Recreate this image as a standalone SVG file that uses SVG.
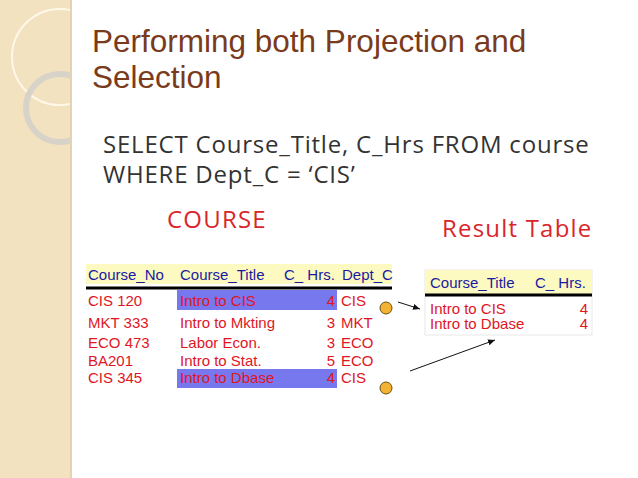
<svg xmlns="http://www.w3.org/2000/svg" width="638" height="478" viewBox="0 0 638 478">
<defs>
<marker id="ah" markerWidth="8" markerHeight="8" refX="7" refY="4" orient="auto" markerUnits="userSpaceOnUse"><path d="M0,1 L7,4 L0,7 z" fill="#111"/></marker>
<clipPath id="band"><rect x="0" y="0" width="70" height="478"/></clipPath>
</defs>
<style>
.h{font-family:"Liberation Sans",Arial,sans-serif;font-size:15px;fill:#1a1aa0}
.r{font-family:"Liberation Sans",Arial,sans-serif;font-size:15px;fill:#e0161e}
.t{font-family:"Open Sans","DejaVu Sans",sans-serif;font-size:24px;fill:#333;letter-spacing:0.8px}
.c{font-family:"Open Sans","DejaVu Sans",sans-serif;font-size:24px;fill:#d9262a;letter-spacing:1.2px}
.dot{fill:#f2b233;stroke:#6a5010;stroke-width:1}
</style>
<rect width="638" height="478" fill="#fff"/>
<g id="background">
<rect x="0" y="0" width="70" height="478" fill="#f2e2c0"/>
<rect x="70" y="0" width="2" height="478" fill="#e3d3b0"/>
<g clip-path="url(#band)">
<circle cx="60" cy="57" r="48" fill="none" stroke="#fff8e8" stroke-width="2"/>
<circle cx="60" cy="108" r="34" fill="none" stroke="#d8d3c8" stroke-width="6"/>
</g>
</g>
<g id="title">
<text x="92" y="52" font-family="'Liberation Sans',Arial,sans-serif" font-size="31.5" fill="#7a3a1c">Performing both Projection and</text>
<text x="92" y="88" font-family="'Liberation Sans',Arial,sans-serif" font-size="31.5" fill="#7a3a1c">Selection</text>
</g>
<g id="sql">
<text class="t" x="103" y="153">SELECT Course_Title, C_Hrs FROM course</text>
<text class="t" x="103" y="183">WHERE Dept_C = ‘CIS’</text>
</g>
<g id="course-table">
<text class="c" x="167" y="228">COURSE</text>
<rect x="86" y="264" width="306" height="20" fill="#fcfac0"/>
<rect x="177" y="290" width="160" height="20" fill="#7777ee"/>
<rect x="177" y="369" width="160" height="19" fill="#7777ee"/>
<line x1="86" y1="288" x2="392" y2="288" stroke="#000" stroke-width="3"/>
<text class="h" x="88" y="280">Course_No</text>
<text class="h" x="180" y="280">Course_Title</text>
<text class="h" x="284" y="280">C_ Hrs.</text>
<text class="h" x="342" y="280">Dept_C</text>
<text class="r" x="88" y="306">CIS 120</text><text class="r" x="335" y="306" text-anchor="end">4</text><text class="r" x="180" y="306">Intro to CIS</text><text class="r" x="341" y="306">CIS</text>
<text class="r" x="88" y="328">MKT 333</text><text class="r" x="180" y="328">Intro to Mkting</text><text class="r" x="335" y="328" text-anchor="end">3</text><text class="r" x="341" y="328">MKT</text>
<text class="r" x="88" y="348">ECO 473</text><text class="r" x="180" y="348">Labor Econ.</text><text class="r" x="335" y="348" text-anchor="end">3</text><text class="r" x="341" y="348">ECO</text>
<text class="r" x="88" y="366">BA201</text><text class="r" x="180" y="366">Intro to Stat.</text><text class="r" x="335" y="366" text-anchor="end">5</text><text class="r" x="341" y="366">ECO</text>
<text class="r" x="88" y="383">CIS 345</text><text class="r" x="180" y="383">Intro to Dbase</text><text class="r" x="335" y="383" text-anchor="end">4</text><text class="r" x="341" y="383">CIS</text>
</g>
<g id="result-table">
<text class="c" x="442" y="237">Result Table</text>
<rect x="425" y="270" width="167" height="65" fill="#fff" stroke="#e8e8e8"/>
<rect x="425" y="270" width="167" height="24" fill="#fcfac0"/>
<line x1="425" y1="295" x2="592" y2="295" stroke="#000" stroke-width="3"/>
<text class="h" x="430" y="288">Course_Title</text>
<text class="h" x="535" y="288">C_ Hrs.</text>
<text class="r" x="430" y="314">Intro to CIS</text><text class="r" x="588" y="314" text-anchor="end">4</text>
<text class="r" x="430" y="329">Intro to Dbase</text><text class="r" x="588" y="329" text-anchor="end">4</text>
</g>
<g id="dot1"><circle class="dot" cx="386" cy="308" r="6"/></g>
<g id="dot2"><circle class="dot" cx="386" cy="388" r="6"/></g>
<g id="connectors" stroke="#111" stroke-width="1" fill="none">
<line x1="398" y1="302" x2="420" y2="309" marker-end="url(#ah)"/>
<line x1="410" y1="371" x2="495" y2="340" marker-end="url(#ah)"/>
</g>
</svg>
